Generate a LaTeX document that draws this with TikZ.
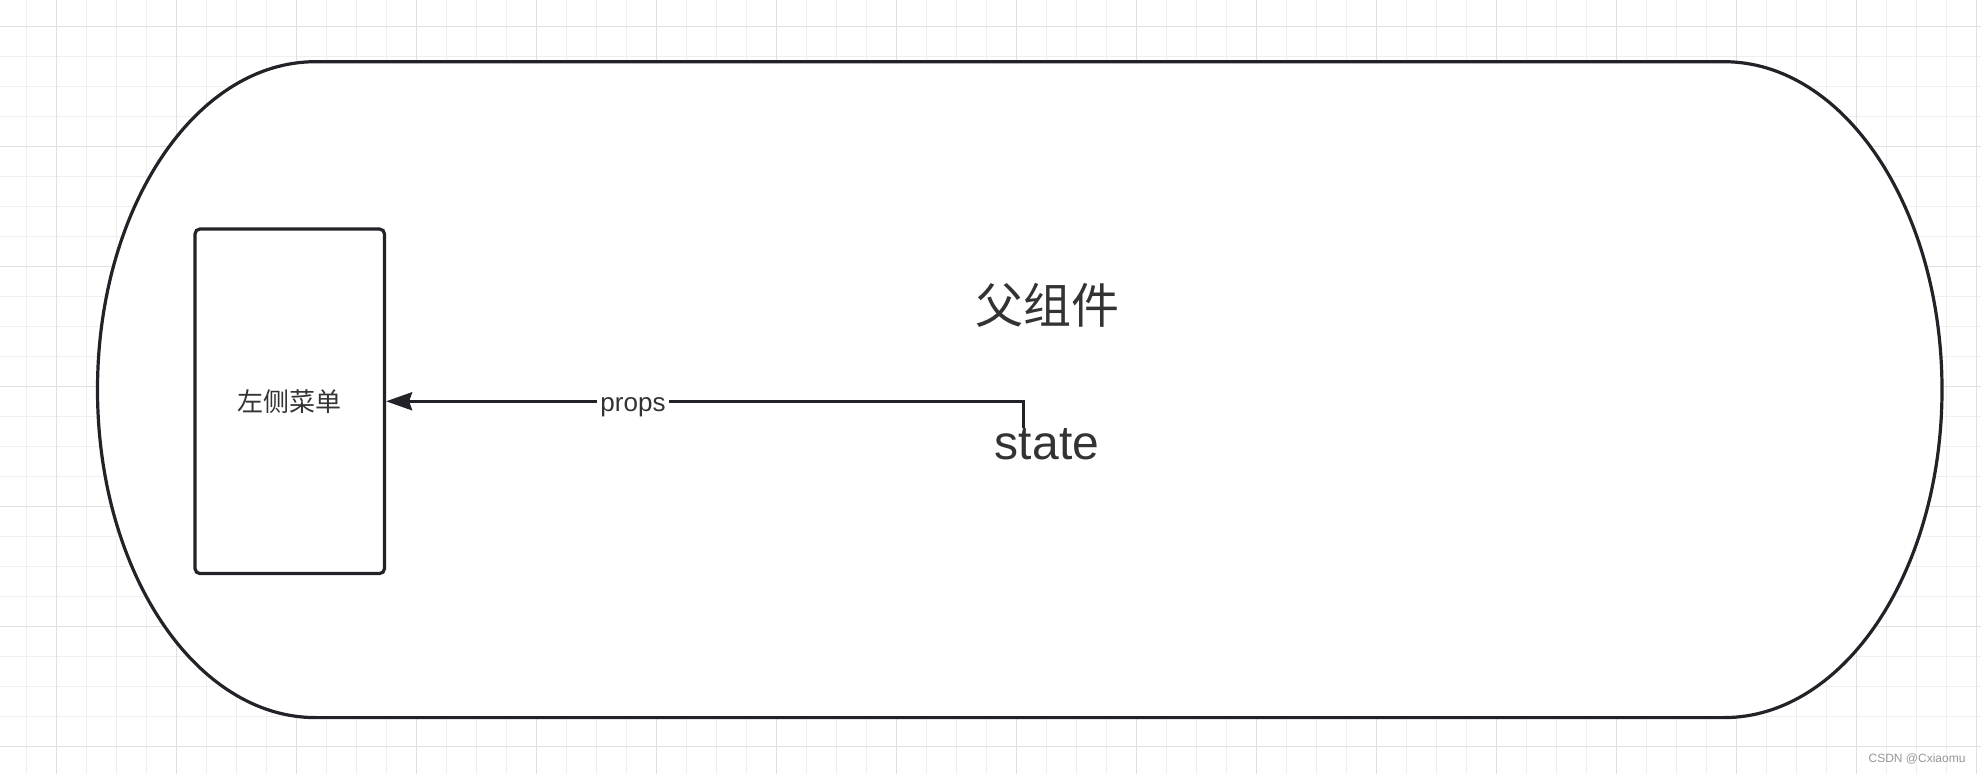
\documentclass[tikz,border=0pt]{standalone}
\usepackage{fontspec}
\setmainfont{Liberation Sans}
\newfontfamily\cjk{Noto Sans CJK SC}
\usetikzlibrary{arrows.meta}
\definecolor{edgec}{RGB}{34,34,40}
\definecolor{txtc}{RGB}{51,51,51}
\definecolor{gridminor}{RGB}{239,239,239}
\definecolor{gridmajor}{RGB}{224,224,224}
\definecolor{wmc}{RGB}{150,150,150}
\tikzset{
  minorline/.style={draw=gridminor,line width=0.5pt},
  majorline/.style={draw=gridmajor,line width=0.5pt},
  outline/.style={draw=edgec,line width=1.6pt,fill=white},
  menubox/.style={draw=edgec,line width=1.6pt,fill=white,rounded corners=2.5pt,
    minimum width=94.75pt,minimum height=172.3pt,inner sep=0pt,text=txtc,
    font=\fontsize{13}{15}\selectfont},
  bigtext/.style={text=txtc,inner sep=0pt,font=\fontsize{24}{28}\selectfont},
  conn/.style={draw=edgec,line width=1.6pt,-{Stealth[length=13pt,width=9pt,inset=1.5pt]}},
  lbl/.style={text=txtc,fill=white,inner xsep=1.5pt,inner ysep=1pt,font=\fontsize{13}{15}\selectfont},
  watermark/.style={text=wmc,inner sep=0pt,font=\fontsize{6}{7}\selectfont}
}
\begin{document}
\begin{tikzpicture}[x=0.5pt,y=-0.5pt]
\useasboundingbox (0,0) rectangle (1981,774);
\fill[white] (0,0) rectangle (1981,774);
% grid
\foreach \i in {0,...,65} \draw[minorline] ({26.7+30*\i},0) -- ({26.7+30*\i},774);
\foreach \j in {0,...,24} \draw[minorline] (0,{26.7+30*\j}) -- (1981,{26.7+30*\j});
\foreach \i in {0,...,16} \draw[majorline] ({56.7+120*\i},0) -- ({56.7+120*\i},774);
\foreach \j in {0,...,6} \draw[majorline] (0,{26.7+120*\j}) -- (1981,{26.7+120*\j});
% parent stadium
\path[outline] (315.5,61.7) -- (1724,61.7)
  arc[start angle=90,end angle=-90,x radius=109pt,y radius=163.975pt]
  -- (315.5,717.6)
  arc[start angle=270,end angle=90,x radius=109pt,y radius=163.975pt] -- cycle;
% nodes
\node[menubox] (menu) at (289.75,401.3) {\cjk 左侧菜单};
\node[bigtext] (parent) at (1047,305) {\cjk 父组件};
\node[bigtext,anchor=base] (state) at (1047,460) {state};
\coordinate (src) at (1023.3,428);
\draw[conn] (src) |- (menu.east);
\node[lbl,anchor=base] (props) at (633,411.7) {props};
\node[watermark] (wm) at (1917,759) {CSDN @Cxiaomu};
\end{tikzpicture}
\end{document}
